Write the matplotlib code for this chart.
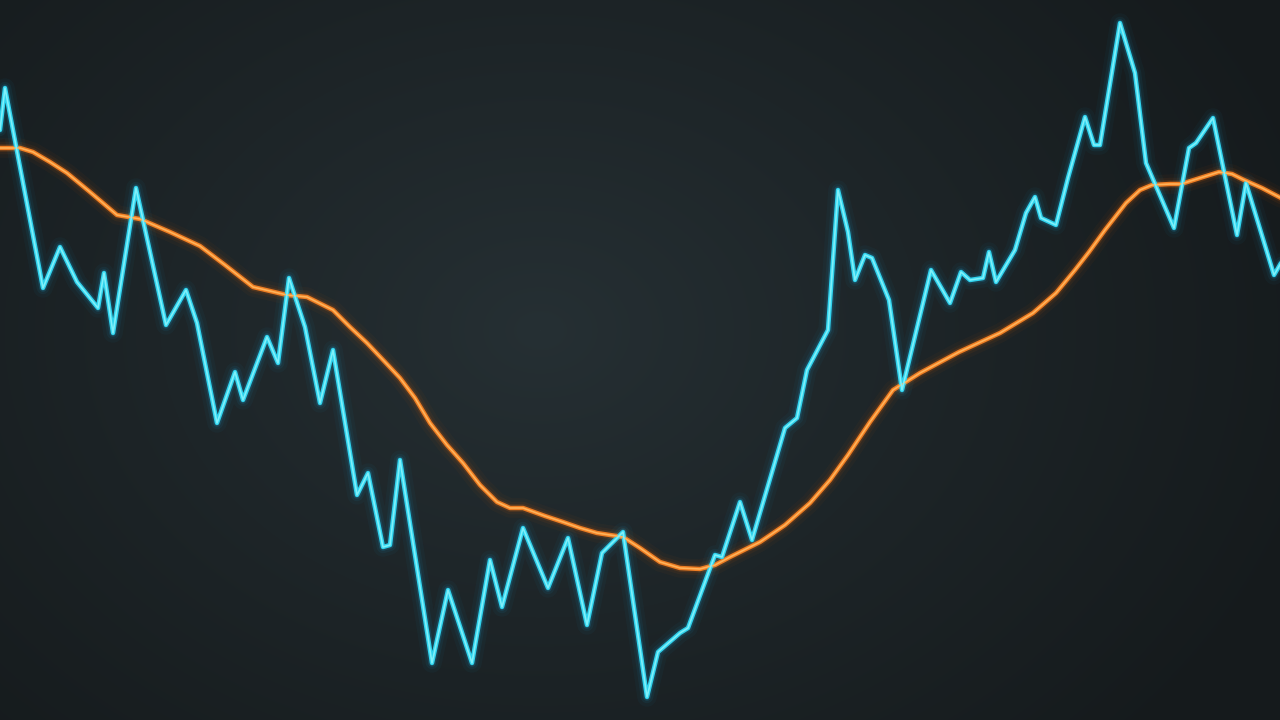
import numpy as np
import matplotlib
matplotlib.use("Agg")
import matplotlib.pyplot as plt

# price trace (jagged, cyan) - x position and level
price_x = [0, 5, 43, 60, 77, 98, 104, 113, 136, 166, 186, 197, 217, 235, 243, 267, 278, 289, 305,
           320, 333, 357, 368, 383, 390, 400, 432, 448, 472, 490, 502, 523, 548, 568, 587, 602, 623,
           647, 658, 680, 688, 715, 722, 740, 752, 785, 797, 807, 828, 838, 848, 855, 865, 872, 889,
           902, 931, 950, 961, 970, 983, 989, 996, 1015, 1026, 1035, 1041, 1056, 1068, 1085, 1094,
           1100, 1120, 1135, 1146, 1174, 1189, 1196, 1213, 1237, 1246, 1274, 1281]
price_y = [130, 88, 288, 247, 282, 308, 273, 333, 188, 325, 290, 323, 423, 372, 400, 337, 363, 278, 327,
           403, 350, 495, 473, 547, 545, 460, 663, 590, 663, 560, 607, 528, 588, 538, 625, 553, 532,
           697, 652, 633, 628, 555, 557, 502, 540, 428, 418, 370, 330, 190, 232, 280, 255, 258, 300,
           390, 270, 303, 272, 280, 278, 252, 282, 250, 213, 197, 218, 225, 178, 117, 145,
           145, 23, 73, 163, 228, 148, 143, 118, 235, 183, 275, 263]

# moving average (smooth, orange)
avg_x = [0, 20, 33, 50, 67, 90, 117, 140, 170, 200, 225, 253, 287, 307, 333, 350, 367, 385, 400, 415,
         430, 447, 463, 480, 497, 510, 523, 545, 563, 580, 597, 623, 640, 660, 680, 700, 715, 730, 760,
         785, 810, 830, 848, 870, 893, 920, 959, 1000, 1033, 1056, 1075, 1089, 1105, 1126, 1140, 1152,
         1170, 1181, 1200, 1219, 1232, 1244, 1262, 1281]
avg_y = [148, 148, 152, 162, 173, 192, 215, 219, 232, 246, 265, 287, 295, 297, 310, 327, 343, 362, 378, 398,
         423, 445, 463, 485, 502, 508, 508, 516, 522, 528, 533, 537, 548, 562, 568, 569, 565, 557, 542,
         525, 503, 480, 455, 422, 390, 373, 352, 333, 313, 293, 270, 252, 230, 203, 190, 185,
         184, 184, 178, 172, 174, 180, 188, 198]

W, H = 1280, 720
fig = plt.figure(figsize=(12.8, 7.2), dpi=100)
ax = fig.add_axes([0, 0, 1, 1])

# radial background, teal-ish dark
yy, xx = np.mgrid[0:H, 0:W]
r = np.sqrt(((xx - 540) / 820.0) ** 2 + ((yy - 330) / 620.0) ** 2)
r = np.clip(r, 0, 1) ** 0.9
inner = np.array([38, 48, 52]) / 255.0
outer = np.array([21, 26, 28]) / 255.0
bg = inner[None, None, :] * (1 - r[..., None]) + outer[None, None, :] * r[..., None]
ax.imshow(bg, extent=(0, W, H, 0), aspect='auto', zorder=0)

def glow_line(x, y, core, edge, halo, lw=2.0):
    for w, a in [(14, 0.035), (9, 0.06), (5.5, 0.14)]:
        ax.plot(x, y, color=halo, lw=w, alpha=a, solid_capstyle='round', solid_joinstyle='round', zorder=2)
    ax.plot(x, y, color=edge, lw=lw + 1.2, solid_capstyle='round', solid_joinstyle='round', zorder=3)
    ax.plot(x, y, color=core, lw=lw * 0.6, solid_capstyle='round', solid_joinstyle='round', zorder=4)

glow_line(avg_x, avg_y, '#ffb35a', '#ef7d22', '#ff6a00', lw=2.0)
glow_line(price_x, price_y, '#7ff0fa', '#2fd3ee', '#16c0ff', lw=2.0)

ax.set_xlim(0, W)
ax.set_ylim(H, 0)
ax.axis('off')

fig.savefig('out.png', dpi=100)
